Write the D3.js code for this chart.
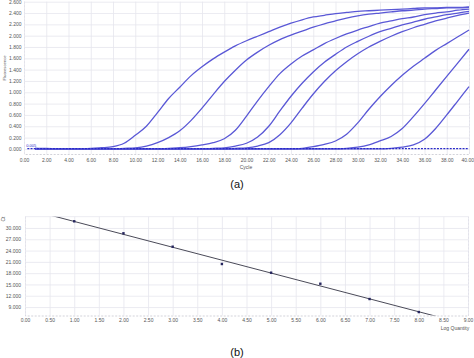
<!DOCTYPE html>
<html><head><meta charset="utf-8">
<script src="https://cdn.jsdelivr.net/npm/d3@7"></script>
<style>body{margin:0;background:#fff} svg{display:block} text{font-family:"Liberation Sans",Arial,sans-serif}</style>
</head><body><svg id="c" width="474" height="358"></svg>
<script>
// ---------- (a) amplification plot data ----------
const cycles = [1,2,3,4,5,6,7,8,9,10,11,12,13,14,15,16,17,18,19,20,21,22,23,24,25,26,27,28,29,30,31,32,33,34,35,36,37,38,39,40];
const curveA = [0.01,0.01,0.00,0.00,0.00,0.01,0.02,0.04,0.10,0.24, 0.40,0.64,0.89,1.09,1.29,1.45,1.59,1.71,1.82,1.91, 1.99,2.07,2.15,2.22,2.28,2.33,2.36,2.39,2.41,2.43, 2.44,2.45,2.46,2.47,2.48,2.49,2.49,2.50,2.50,2.51];
const curveB = [0.00,0.00,-0.01,-0.01,0.00,0.00,0.00,0.00,0.01,0.02, 0.05,0.11,0.20,0.32,0.50,0.72,0.96,1.19,1.39,1.57, 1.71,1.83,1.93,2.01,2.08,2.15,2.21,2.26,2.31,2.35, 2.38,2.40,2.42,2.44,2.45,2.47,2.48,2.49,2.49,2.50];
const curveC = [0.01,0.00,0.00,0.00,0.00,0.00,0.00,0.00,0.00,0.00, 0.00,0.00,0.01,0.02,0.04,0.07,0.11,0.18,0.33,0.58, 0.85,1.10,1.33,1.50,1.64,1.75,1.86,1.95,2.03,2.10, 2.16,2.22,2.26,2.30,2.33,2.37,2.40,2.42,2.45,2.47];
const curveD = [-0.01,-0.01,0.00,0.00,0.00,0.00,0.00,0.00,0.00,0.00, 0.00,0.00,0.00,0.00,0.00,0.00,0.01,0.02,0.05,0.10, 0.21,0.40,0.67,0.93,1.16,1.36,1.53,1.67,1.80,1.90, 1.99,2.07,2.13,2.19,2.24,2.29,2.33,2.37,2.40,2.43];
const curveE = [0.00,0.00,0.00,0.00,0.00,0.00,0.00,0.00,0.00,0.00, 0.00,0.00,0.00,0.00,0.00,0.00,0.00,0.00,0.01,0.02, 0.05,0.11,0.25,0.46,0.72,0.97,1.19,1.38,1.54,1.68, 1.80,1.90,1.99,2.07,2.14,2.20,2.26,2.31,2.36,2.40];
const curveF = [0.00,0.00,0.00,0.00,0.00,0.00,0.00,0.00,0.00,0.00, 0.00,0.00,0.00,0.00,0.00,0.00,0.00,0.00,0.00,0.00, 0.00,0.00,0.00,0.00,0.01,0.04,0.08,0.14,0.26,0.46, 0.70,0.92,1.12,1.30,1.46,1.60,1.74,1.86,1.98,2.10];
const curveG = [0.00,0.00,0.00,0.00,0.00,0.00,0.00,0.00,0.00,0.00, 0.00,0.00,0.00,0.00,0.00,0.00,0.00,0.00,0.00,0.00, 0.00,0.00,0.00,0.00,0.00,0.00,0.00,0.00,0.01,0.03, 0.07,0.14,0.22,0.36,0.57,0.80,1.04,1.28,1.52,1.76];
const curveH = [0.00,0.00,0.00,0.00,0.00,0.00,0.00,0.00,0.00,0.00, 0.00,0.00,0.00,0.00,0.00,0.00,0.00,0.00,0.00,0.00, 0.00,0.00,0.00,0.00,0.00,0.00,0.00,0.00,0.00,0.00, 0.00,0.00,0.01,0.03,0.07,0.17,0.36,0.60,0.85,1.10];
const ampCurves = [curveA, curveB, curveC, curveD, curveE, curveF, curveG, curveH];
const thresholdValue = 0.005;
const thresholdLabel = "0.005";
const xTicksTop = [0,2,4,6,8,10,12,14,16,18,20,22,24,26,28,30,32,34,36,38,40];
const yTicksTop = [0,0.2,0.4,0.6,0.8,1.0,1.2,1.4,1.6,1.8,2.0,2.2,2.4,2.6];

// ---------- (b) standard curve data ----------
const logQuantity = [1,2,3,4,5,6,7,8];
const ctValues = [31.78,28.59,25.03,20.43,18.12,15.19,11.13,7.67];
const xTicksBottom = [0,0.5,1,1.5,2,2.5,3,3.5,4,4.5,5,5.5,6,6.5,7,7.5,8,8.5,9];
const yTicksBottom = [9,12,15,18,21,24,27,30];

const svg = d3.select("#c");
const gridColor = "#e6e6ee";
const tickColor = "#555";

function styleAxis(g, hideDomain) {
  g.selectAll(".tick line").attr("stroke", gridColor).attr("stroke-width", 0.8);
  g.selectAll(".tick text").attr("fill", tickColor).attr("font-size", 5);
  if (hideDomain) g.select(".domain").remove();
  else g.select(".domain").attr("stroke", "#c8c8d0").attr("stroke-dasharray", "2,1.5").attr("stroke-width", 0.8);
}

// ===== Panel (a) =====
const xA = d3.scaleLinear().domain([0, 40]).range([24, 469]);
const yA = d3.scaleLinear().domain([-0.09, 2.6]).range([154, 1.7]);

svg.append("g").attr("transform", "translate(0,154)")
  .call(d3.axisBottom(xA).tickValues(xTicksTop).tickFormat(d3.format(".2f"))
    .tickSize(-(154 - 1.7)).tickPadding(4))
  .call(g => styleAxis(g, false))
  .call(g => g.selectAll(".tick text").filter(d => d === 40).attr("dx", -1.8));
svg.append("g").attr("transform", "translate(24,0)")
  .call(d3.axisLeft(yA).tickValues(yTicksTop).tickFormat(d3.format(".3f"))
    .tickSize(-(469 - 24)).tickPadding(2.5))
  .call(g => styleAxis(g, true));

const lineA = d3.line().x((d, i) => xA(cycles[i])).y(d => yA(d)).curve(d3.curveMonotoneX);
svg.append("g").selectAll("path").data(ampCurves).join("path")
  .attr("d", lineA).attr("fill", "none")
  .attr("stroke", "#5a58d6").attr("stroke-width", 1.3);

svg.append("line")
  .attr("x1", xA(0.3)).attr("x2", xA(40))
  .attr("y1", yA(thresholdValue)).attr("y2", yA(thresholdValue))
  .attr("stroke", "#2a2ac8").attr("stroke-width", 1.1).attr("stroke-dasharray", "2,1.2");
svg.append("text").attr("x", xA(0.2)).attr("y", yA(thresholdValue) - 1.8)
  .attr("font-size", 4).attr("fill", "#2a2ac8").text(thresholdLabel);

svg.append("text").attr("transform", "translate(6,68) rotate(-90)")
  .attr("text-anchor", "middle").attr("font-size", 4.2).attr("fill", tickColor).text("Fluorescence");
svg.append("text").attr("x", 246).attr("y", 169).attr("text-anchor", "middle")
  .attr("font-size", 5).attr("fill", tickColor).text("Cycle");
svg.append("text").attr("x", 237).attr("y", 188).attr("text-anchor", "middle")
  .attr("font-size", 11).attr("fill", "#111").text("(a)");

// ===== Panel (b) =====
const xB = d3.scaleLinear().domain([0, 9]).range([25, 468]);
const yB = d3.scaleLinear().domain([6.75, 33]).range([315.5, 216.7]);

svg.append("g").attr("transform", "translate(0,315.5)")
  .call(d3.axisBottom(xB).tickValues(xTicksBottom).tickFormat(d3.format(".2f"))
    .tickSize(-(315.5 - 216.7)).tickPadding(2.8))
  .call(g => styleAxis(g, false));
svg.append("g").attr("transform", "translate(25,0)")
  .call(d3.axisLeft(yB).tickValues(yTicksBottom).tickFormat(d3.format(".3f"))
    .tickSize(-(468 - 25)).tickPadding(4))
  .call(g => styleAxis(g, true));
svg.append("line").attr("x1", 25).attr("x2", 468).attr("y1", 216.7).attr("y2", 216.7)
  .attr("stroke", gridColor).attr("stroke-width", 0.8);

// least-squares standard line from the points
const mx = d3.mean(logQuantity), my = d3.mean(ctValues);
const sxy = d3.sum(logQuantity, (x, i) => (x - mx) * (ctValues[i] - my));
const sxx = d3.sum(logQuantity, x => (x - mx) * (x - mx));
const slope = sxy / sxx, intercept = my - slope * mx;

svg.append("clipPath").attr("id", "clipB").append("rect")
  .attr("x", 25).attr("y", 216.7).attr("width", 443).attr("height", 315.5 - 216.7);
svg.append("line").attr("clip-path", "url(#clipB)")
  .attr("x1", xB(0)).attr("y1", yB(intercept))
  .attr("x2", xB(9)).attr("y2", yB(intercept + slope * 9))
  .attr("stroke", "#4a4a58").attr("stroke-width", 1);

svg.append("g").selectAll("rect").data(logQuantity).join("rect")
  .attr("x", d => xB(d) - 1.2).attr("y", (d, i) => yB(ctValues[i]) - 1.2)
  .attr("width", 2.4).attr("height", 2.4).attr("fill", "#26265e");

svg.append("text").attr("transform", "translate(5,219) rotate(-90)")
  .attr("text-anchor", "middle").attr("font-size", 5).attr("fill", tickColor).text("Ct");
svg.append("text").attr("x", 455).attr("y", 329.5).attr("text-anchor", "middle")
  .attr("font-size", 5).attr("fill", tickColor).text("Log Quantity");
svg.append("text").attr("x", 237).attr("y", 356).attr("text-anchor", "middle")
  .attr("font-size", 11).attr("fill", "#111").text("(b)");
</script></body></html>
